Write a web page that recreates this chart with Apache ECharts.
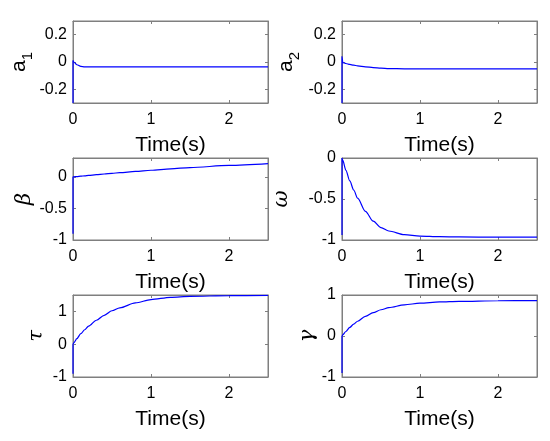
<!DOCTYPE html>
<html><head><meta charset="utf-8">
<script src="https://cdn.jsdelivr.net/npm/echarts@6/dist/echarts.min.js"></script>
<style>html,body{margin:0;padding:0;background:#fff}#c{width:550px;height:441px}</style>
</head><body><div id="c"></div>
<script>
const time  = [0, 0, 0.01, 0.05, 0.1, 0.15, 0.2, 0.3, 0.4, 0.5, 0.6, 0.8, 1.0, 1.25, 1.5, 2.0, 2.5];
const a1    = [-0.3, 0.01, 0.0, -0.02, -0.032, -0.035, -0.036, -0.036, -0.036, -0.036, -0.036, -0.036, -0.036, -0.036, -0.036, -0.036, -0.036];
const a2    = [-0.3, 0.04, -0.004, -0.011, -0.018, -0.023, -0.028, -0.035, -0.041, -0.045, -0.048, -0.050, -0.051, -0.051, -0.051, -0.051, -0.051];
const beta  = [-0.9, 0, 0.001, 0.006, 0.012, 0.018, 0.024, 0.035, 0.046, 0.057, 0.067, 0.087, 0.106, 0.128, 0.148, 0.182, 0.21];
const omega = [-0.94, 0, -0.03, -0.15, -0.28, -0.39, -0.49, -0.65, -0.77, -0.85, -0.89, -0.935, -0.952, -0.96, -0.963, -0.965, -0.965];
const tau   = [-0.9, 0, 0.04, 0.17, 0.32, 0.44, 0.55, 0.73, 0.88, 1.02, 1.11, 1.26, 1.36, 1.43, 1.46, 1.48, 1.49];
const gamma = [-0.9, 0, 0.03, 0.11, 0.21, 0.29, 0.36, 0.48, 0.57, 0.64, 0.69, 0.76, 0.80, 0.83, 0.845, 0.86, 0.865];

const xTicks = [0, 1, 2];
const xLabel = 'Time(s)';

const panels = [
  {name:'a{s|1}', data:a1, min:-0.3, max:0.3, ticks:[-0.2,0,0.2], gap:38, left:73, top:21},
  {name:'a{s|2}', data:a2, min:-0.3, max:0.3, ticks:[-0.2,0,0.2], gap:40, left:342, top:21},
  {name:'{g|β}', data:beta, min:-1, max:0.3, ticks:[-1,-0.5,0], gap:38, left:73, top:158},
  {name:'{g|ω}', data:omega, min:-1, max:0, ticks:[-1,-0.5,0], gap:50, left:342, top:158},
  {name:'{g|τ}', data:tau, min:-1, max:1.5, ticks:[-1,0,1], gap:26, left:73, top:295},
  {name:'{g|γ}', data:gamma, min:-1, max:1, ticks:[-1,0,1], gap:24, left:342, top:295}
];

const W = 195, H = 82;
const grey = '#7f7f7f';
const font = 'Liberation Sans, Arial, Helvetica, sans-serif';
const grids = [], xAxes = [], yAxes = [], series = [];

panels.forEach((p, i) => {
  grids.push({left:p.left, top:p.top, width:W, height:H, show:true,
    borderColor:grey, borderWidth:1, backgroundColor:'transparent'});
  const lineStyle = {color:grey, width:1};
  xAxes.push({type:'value', gridIndex:i, position:'bottom', min:0, max:2.5,
    name:xLabel, nameLocation:'middle', nameGap:32,
    nameTextStyle:{fontSize:21, color:'#000', fontFamily:font},
    axisLine:{show:true, onZero:false, lineStyle},
    axisTick:{show:true, inside:true, length:3, customValues:xTicks, lineStyle},
    axisLabel:{show:true, customValues:xTicks, margin:9, fontSize:16, color:'#000', fontFamily:font},
    splitLine:{show:false}});
  xAxes.push({type:'value', gridIndex:i, position:'top', min:0, max:2.5,
    axisLine:{show:true, onZero:false, lineStyle},
    axisTick:{show:true, inside:true, length:3, customValues:xTicks, lineStyle},
    axisLabel:{show:false}, splitLine:{show:false}});
  yAxes.push({type:'value', gridIndex:i, position:'left', min:p.min, max:p.max,
    name:p.name, nameLocation:'middle', nameGap:p.gap, nameRotate:90,
    nameTextStyle:{fontSize:21, color:'#000', fontFamily:font,
      rich:{
        s:{fontSize:15, fontFamily:font, color:'#000', verticalAlign:'bottom', lineHeight:31},
        g:{fontSize:21, fontFamily:'DejaVu Serif, serif', fontStyle:'italic', color:'#000'}
      }},
    axisLine:{show:true, onZero:false, lineStyle},
    axisTick:{show:true, inside:true, length:3, customValues:p.ticks, lineStyle},
    axisLabel:{show:true, customValues:p.ticks, margin:6, fontSize:16, color:'#000', fontFamily:font},
    splitLine:{show:false}});
  yAxes.push({type:'value', gridIndex:i, position:'right', min:p.min, max:p.max,
    axisLine:{show:true, onZero:false, lineStyle},
    axisTick:{show:true, inside:true, length:3, customValues:p.ticks, lineStyle},
    axisLabel:{show:false}, splitLine:{show:false}});
  series.push({type:'line', xAxisIndex:2*i, yAxisIndex:2*i, showSymbol:false,
    smooth:0.3, smoothMonotone:'x', animation:false, clip:true,
    lineStyle:{color:'#0000ff', width:1.2},
    data: time.map((t, k) => [t, p.data[k]])});
  series.push({type:'line', xAxisIndex:2*i+1, yAxisIndex:2*i+1, showSymbol:false,
    silent:true, animation:false, lineStyle:{opacity:0}, data:[]});
});

const chart = echarts.init(document.getElementById('c'), null, {renderer:'canvas'});
chart.setOption({animation:false, grid:grids, xAxis:xAxes, yAxis:yAxes, series});
</script></body></html>
